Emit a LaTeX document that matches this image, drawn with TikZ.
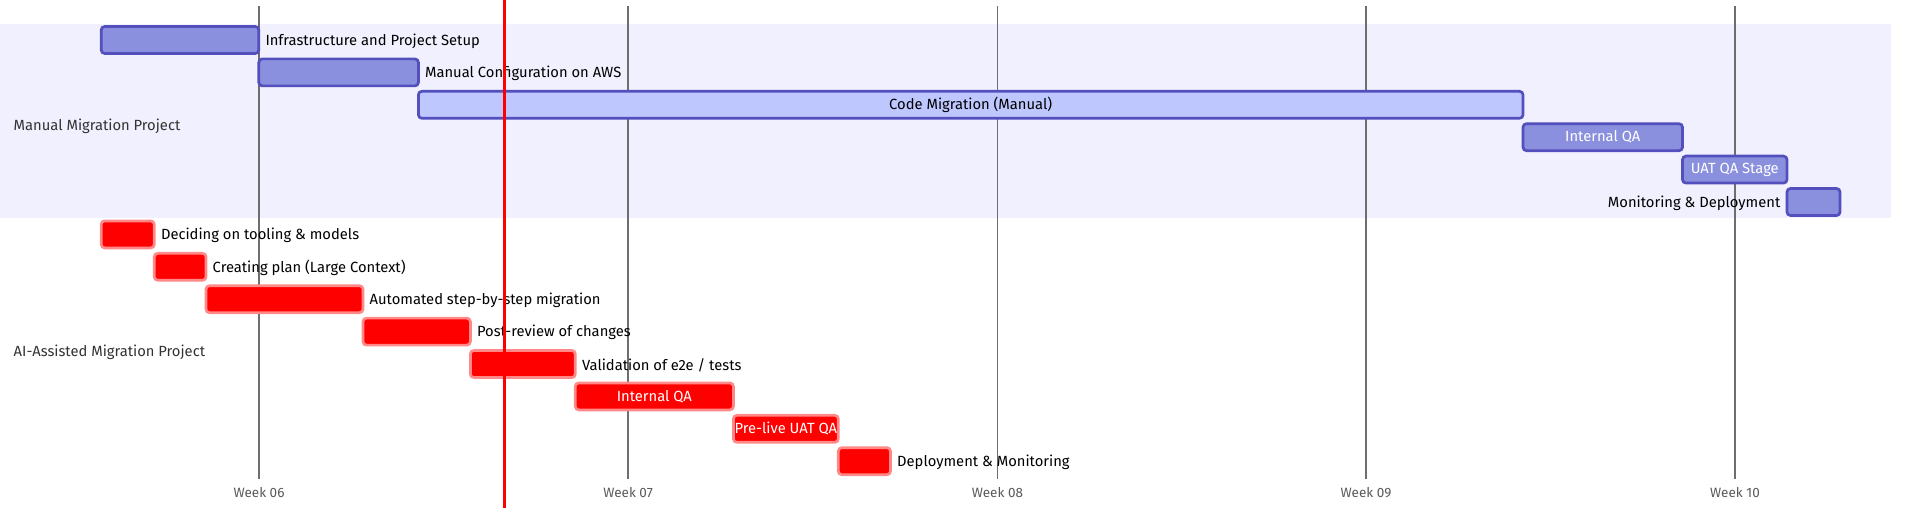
\documentclass[tikz,border=0pt]{standalone}
\usepackage{fontspec}
\setmainfont{Fira Sans}
\definecolor{bandc}{HTML}{F0F0FE}
\definecolor{taskc}{HTML}{8A90DD}
\definecolor{activec}{HTML}{BFC7FF}
\definecolor{strokec}{HTML}{534FBC}
\definecolor{critstroke}{HTML}{FF8888}
\definecolor{gridc}{HTML}{6E6E6E}
\tikzset{
  barbase/.style={rounded corners=3.5pt,line width=2.7pt,outer sep=0pt,minimum height=27pt,inner sep=0pt,anchor=west,font=\fontsize{14.75}{16}\selectfont},
  task/.style={barbase,draw=strokec,fill=taskc},
  activetask/.style={barbase,draw=strokec,fill=activec},
  crit/.style={barbase,draw=critstroke,fill=red},
  lbl/.style={inner sep=0pt,yshift=-1pt,font=\fontsize{14.75}{16}\selectfont,text=black},
  inwhite/.style={text=white},
  seclabel/.style={inner sep=0pt,anchor=west,font=\fontsize{14.75}{16}\selectfont,text=black!80},
  weekline/.style={draw=gridc,line width=1.35pt},
  weeklabel/.style={inner sep=0pt,font=\fontsize{13.5}{16}\selectfont,text=black!65},
  todayline/.style={draw=red,line width=3pt},
}
\begin{document}
\begin{tikzpicture}[x=1pt,y=-1pt]
\useasboundingbox (0,0) rectangle (1915,508);
\fill[bandc] (0,24) rectangle (1890.5,218);
% week grid
\foreach \n/\xx/\wk in {w6/259/06,w7/628/07,w8/997.4/08,w9/1366/09,w10/1735/10}{
  \coordinate (\n top) at (\xx,6);
  \coordinate (\n bot) at (\xx,479);
  \draw[weekline] (\n top) -- (\n bot);
  \node[weeklabel] (\n lab) at (\xx,492.5) {Week \wk};
}
% section labels
\node[seclabel] (secA) at (13.5,126) {Manual Migration Project};
\node[seclabel] (secB) at (13.5,352) {AI-Assisted Migration Project};
% manual tasks
\node[task,minimum width=157.6pt] (b0) at (101.2,40) {};
\node[task,minimum width=159.6pt] (b1) at (258.8,72.4) {};
\node[activetask,minimum width=1104.6pt] (b2) at (418.4,104.8) {Code Migration (Manual)};
\node[task,inwhite,minimum width=159.5pt] (b3) at (1523,137.2) {Internal QA};
\node[task,inwhite,minimum width=104.5pt] (b4) at (1682.5,169.6) {UAT QA Stage};
\node[task,minimum width=53pt] (b5) at (1787,202) {};
\node[lbl,anchor=west] (l0) at ([xshift=6.5pt]b0.east) {Infrastructure and Project Setup};
\node[lbl,anchor=west] (l1) at ([xshift=6.5pt]b1.east) {Manual Configuration on AWS};
\node[lbl,anchor=east] (l5) at ([xshift=-6.5pt]b5.west) {Monitoring \& Deployment};
% AI tasks
\node[crit,minimum width=53.1pt] (r0) at (101.2,234.4) {};
\node[crit,minimum width=51.7pt] (r1) at (154.3,266.8) {};
\node[crit,minimum width=157pt] (r2) at (206,299.2) {};
\node[crit,minimum width=107.4pt] (r3) at (363,331.6) {};
\node[crit,minimum width=104.9pt] (r4) at (470.4,364) {};
\node[crit,inwhite,minimum width=158.1pt] (r5) at (575.3,396.4) {Internal QA};
\node[crit,inwhite,minimum width=104.9pt] (r6) at (733.4,428.8) {Pre-live UAT QA};
\node[crit,minimum width=52.2pt] (r7) at (838.3,461.2) {};
\node[lbl,anchor=west] (m0) at ([xshift=6.5pt]r0.east) {Deciding on tooling \& models};
\node[lbl,anchor=west] (m1) at ([xshift=6.5pt]r1.east) {Creating plan (Large Context)};
\node[lbl,anchor=west] (m2) at ([xshift=6.5pt]r2.east) {Automated step-by-step migration};
\node[lbl,anchor=west] (m3) at ([xshift=6.5pt]r3.east) {Post-review of changes};
\node[lbl,anchor=west] (m4) at ([xshift=6.5pt]r4.east) {Validation of e2e / tests};
\node[lbl,anchor=west] (m7) at ([xshift=6.5pt]r7.east) {Deployment \& Monitoring};
% today marker
\coordinate (todayTop) at (504,0);
\coordinate (todayBot) at (504,508);
\draw[todayline] (todayTop) -- (todayBot);
\end{tikzpicture}
\end{document}
